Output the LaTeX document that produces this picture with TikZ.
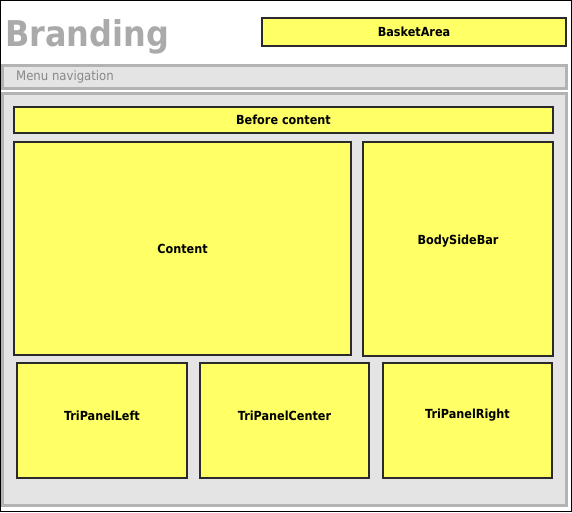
\documentclass[tikz,border=0pt]{standalone}
\usepackage{fontspec}
\setmainfont{DejaVu Sans}
\newfontfamily\brandfont{DejaVu Sans Condensed}
\usepackage{xcolor}
\usetikzlibrary{positioning}

\definecolor{boxfill}{HTML}{FFFF66}
\definecolor{boxline}{HTML}{2A2A2A}
\definecolor{barfill}{HTML}{E4E4E4}
\definecolor{barline}{HTML}{B3B3B3}
\definecolor{greytext}{HTML}{AAAAAA}
\definecolor{menutext}{HTML}{888888}

\begin{document}
\begin{tikzpicture}[
            x=1pt, y=-1pt,
            boxfont/.style={font=\brandfont\bfseries\fontsize{12.5}{15}\selectfont},
            region/.style={rectangle, draw=boxline, fill=boxfill, line width=1.4pt, anchor=north west, outer sep=0pt, inner sep=0pt, boxfont},
            bar/.style={rectangle, draw=barline, fill=barfill, line width=3pt, anchor=north west, outer sep=0pt, inner sep=0pt}
        ]
        \useasboundingbox (0,0) rectangle (572,512);

        % Header
        \node[anchor=base west, inner sep=0pt, text=greytext, font=\brandfont\bfseries\fontsize{35.5}{42}\selectfont] (branding) at (5,46) {Branding};
        \node[region, minimum width=304pt, minimum height=28pt] (basket_area) at (262,18) {BasketArea};

        % Menu bar
        \node[bar, minimum width=563.5pt, minimum height=23.5pt] (menu_nav) at (2.5,65) {};
        \node[anchor=west, inner sep=0pt, text=menutext, font=\brandfont\fontsize{13}{15}\selectfont, right=13.5pt of menu_nav.west] (menu_label) {Menu navigation};

        % Body
        \node[bar, minimum width=563.5pt, minimum height=411.5pt] (body_area) at (2.5,93.5) {};
        \node[region, minimum width=539pt, minimum height=26pt] (before_content) at (14,107) {Before content};
        \node[region, minimum width=337pt, minimum height=213pt] (content) at (14,142) {Content};
        \node[region, minimum width=190pt, minimum height=214pt,
              label={[boxfont, yshift=8pt]center:BodySideBar}] (body_side_bar) at (363,142) {};

        % Tri panels
        \node[region, minimum width=170pt, minimum height=115pt,
              label={[boxfont, yshift=5pt]center:TriPanelLeft}] (tri_left) at (17,363) {};
        \node[region, minimum width=169pt, minimum height=115pt,
              label={[boxfont, yshift=5pt]center:TriPanelCenter}] (tri_center) at (200,363) {};
        \node[region, minimum width=169pt, minimum height=115pt,
              label={[boxfont, yshift=5pt]center:TriPanelRight}] (tri_right) at (383,363) {};

        \draw[black, line width=1pt] (0.5,0.5) rectangle (571.5,511.5);

    \end{tikzpicture}
\end{document}
